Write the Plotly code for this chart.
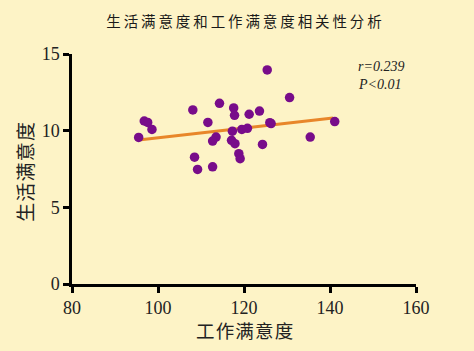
import plotly.graph_objects as go

work_sat = [95.5, 96.8, 97.6, 98.6, 108.1, 111.6, 114.3, 113.5, 112.7, 117.6, 117.8, 117.3,
            117.1, 117.9, 119.5, 120.8, 121.2, 123.6, 125.4, 124.3, 126.0, 126.3, 130.6,
            135.4, 141.1, 108.5, 118.8, 119.1, 109.2, 112.7]
life_sat = [9.56, 10.63, 10.54, 10.08, 11.35, 10.54, 11.78, 9.58, 9.32, 11.48, 11.0, 9.97,
            9.37, 9.15, 10.08, 10.15, 11.07, 11.28, 13.96, 9.1, 10.52, 10.46, 12.16,
            9.58, 10.59, 8.27, 8.5, 8.17, 7.47, 7.64]
fit_x = [96.0, 140.7]
fit_y = [9.41, 10.82]
x_ticks = [80, 100, 120, 140, 160]
y_ticks = [0, 5, 10, 15]

bg = "#FDF3C6"
serif = "Liberation Serif, Times New Roman, serif"
cjk = "Noto Sans CJK SC"


def spaced(s, sep):
    return sep.join(list(s))


fig = go.Figure()
fig.add_trace(go.Scatter(x=fit_x, y=fit_y, mode="lines",
                         line=dict(color="#E8862A", width=3), showlegend=False, hoverinfo="skip"))
fig.add_trace(go.Scatter(x=work_sat, y=life_sat, mode="markers",
                         marker=dict(color="#780C8A", size=9.5, line=dict(width=0)),
                         showlegend=False))

fig.add_annotation(x=146.2, y=14.16, xref="x", yref="y", xanchor="left", yanchor="middle",
                   text="<i>r=0.239</i>", showarrow=False, align="left", borderpad=0,
                   font=dict(family=serif, size=14, color="#222222"))
fig.add_annotation(x=146.2, y=13.0, xref="x", yref="y", xanchor="left", yanchor="middle",
                   text="<i>P<0.01</i>", showarrow=False, align="left", borderpad=0,
                   font=dict(family=serif, size=14, color="#222222"))

# axis titles
fig.add_annotation(x=0.5, y=-0.198, xref="paper", yref="paper", xanchor="center", yanchor="middle",
                   text=spaced("工作满意度", "\u200a"), showarrow=False, borderpad=0,
                   font=dict(family=cjk, size=18.5, color="#222222"))
fig.add_annotation(x=-0.137, y=0.487, xref="paper", yref="paper", xanchor="center", yanchor="middle",
                   text=spaced("生活满意度", "\u200a"), showarrow=False, textangle=-90,
                   font=dict(family=cjk, size=19, color="#222222"))

fig.update_layout(
    width=474, height=351,
    margin=dict(l=72, r=58, t=54, b=67),
    paper_bgcolor=bg, plot_bgcolor=bg,
    title=dict(text=spaced("生活满意度和工作满意度相关性分析", "\u2009"), x=0.5, xref="paper", xanchor="center",
               y=1 - 22 / 351, yref="container", yanchor="middle",
               font=dict(family=cjk, size=14.5, color="#1a1a1a")),
    xaxis=dict(range=[80, 160], tickvals=x_ticks, showgrid=False, zeroline=False,
               showline=True, linecolor="black", linewidth=2.5, ticks="outside",
               ticklen=6, tickwidth=2.5, tickcolor="black",
               tickfont=dict(family=serif, size=18, color="#222222")),
    yaxis=dict(range=[0, 15], tickvals=y_ticks, showgrid=False, zeroline=False,
               showline=True, linecolor="black", linewidth=2.5, ticks="outside",
               ticklen=6, tickwidth=2.5, tickcolor="black",
               tickfont=dict(family=serif, size=18, color="#222222")),
)

fig.write_html("out.html")
